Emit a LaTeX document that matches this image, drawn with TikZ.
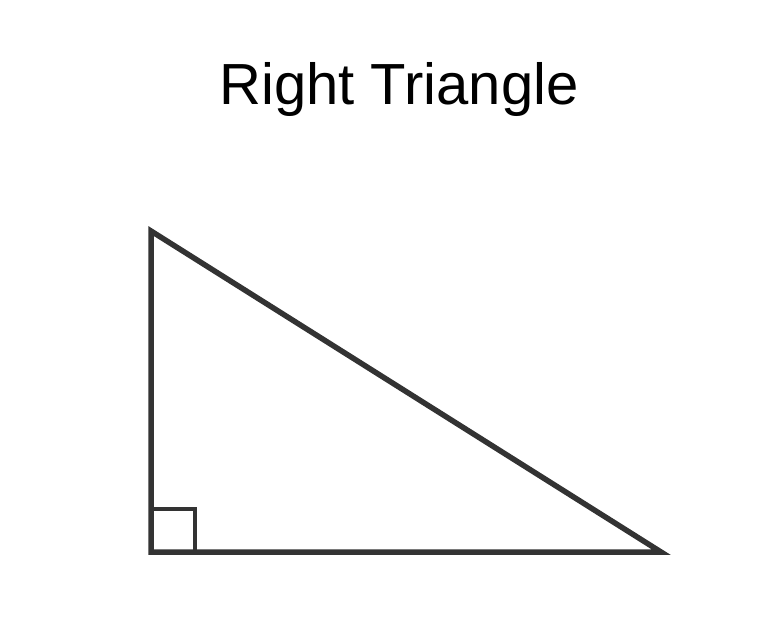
\documentclass[tikz,border=0pt]{standalone}
\usepackage{fontspec}
\setmainfont{Liberation Sans}
\usepackage{xcolor}
\definecolor{edgegray}{HTML}{333333}
\tikzset{
    tri-edge/.style = {draw=edgegray, line width=5.5pt, miter limit=10},
    angle-mark/.style = {draw=edgegray, line width=4pt},
    title-text/.style = {font=\fontsize{58}{62}\selectfont, text=black, inner sep=0pt, anchor=base},
}

\begin{document}
\begin{tikzpicture}[x=1pt, y=-1pt]
\useasboundingbox (0,0) rectangle (768,622);
\node[title-text] (title) at (399,104) {Right Triangle};
\coordinate (top) at (151,231);
\coordinate (corner) at (151,552);
\coordinate (tip) at (661,552);
\draw[tri-edge] (top) -- (corner) -- (tip) -- cycle;
\draw[angle-mark] ([yshift=43pt]corner) -| ([xshift=44pt]corner);
\end{tikzpicture}
\end{document}
